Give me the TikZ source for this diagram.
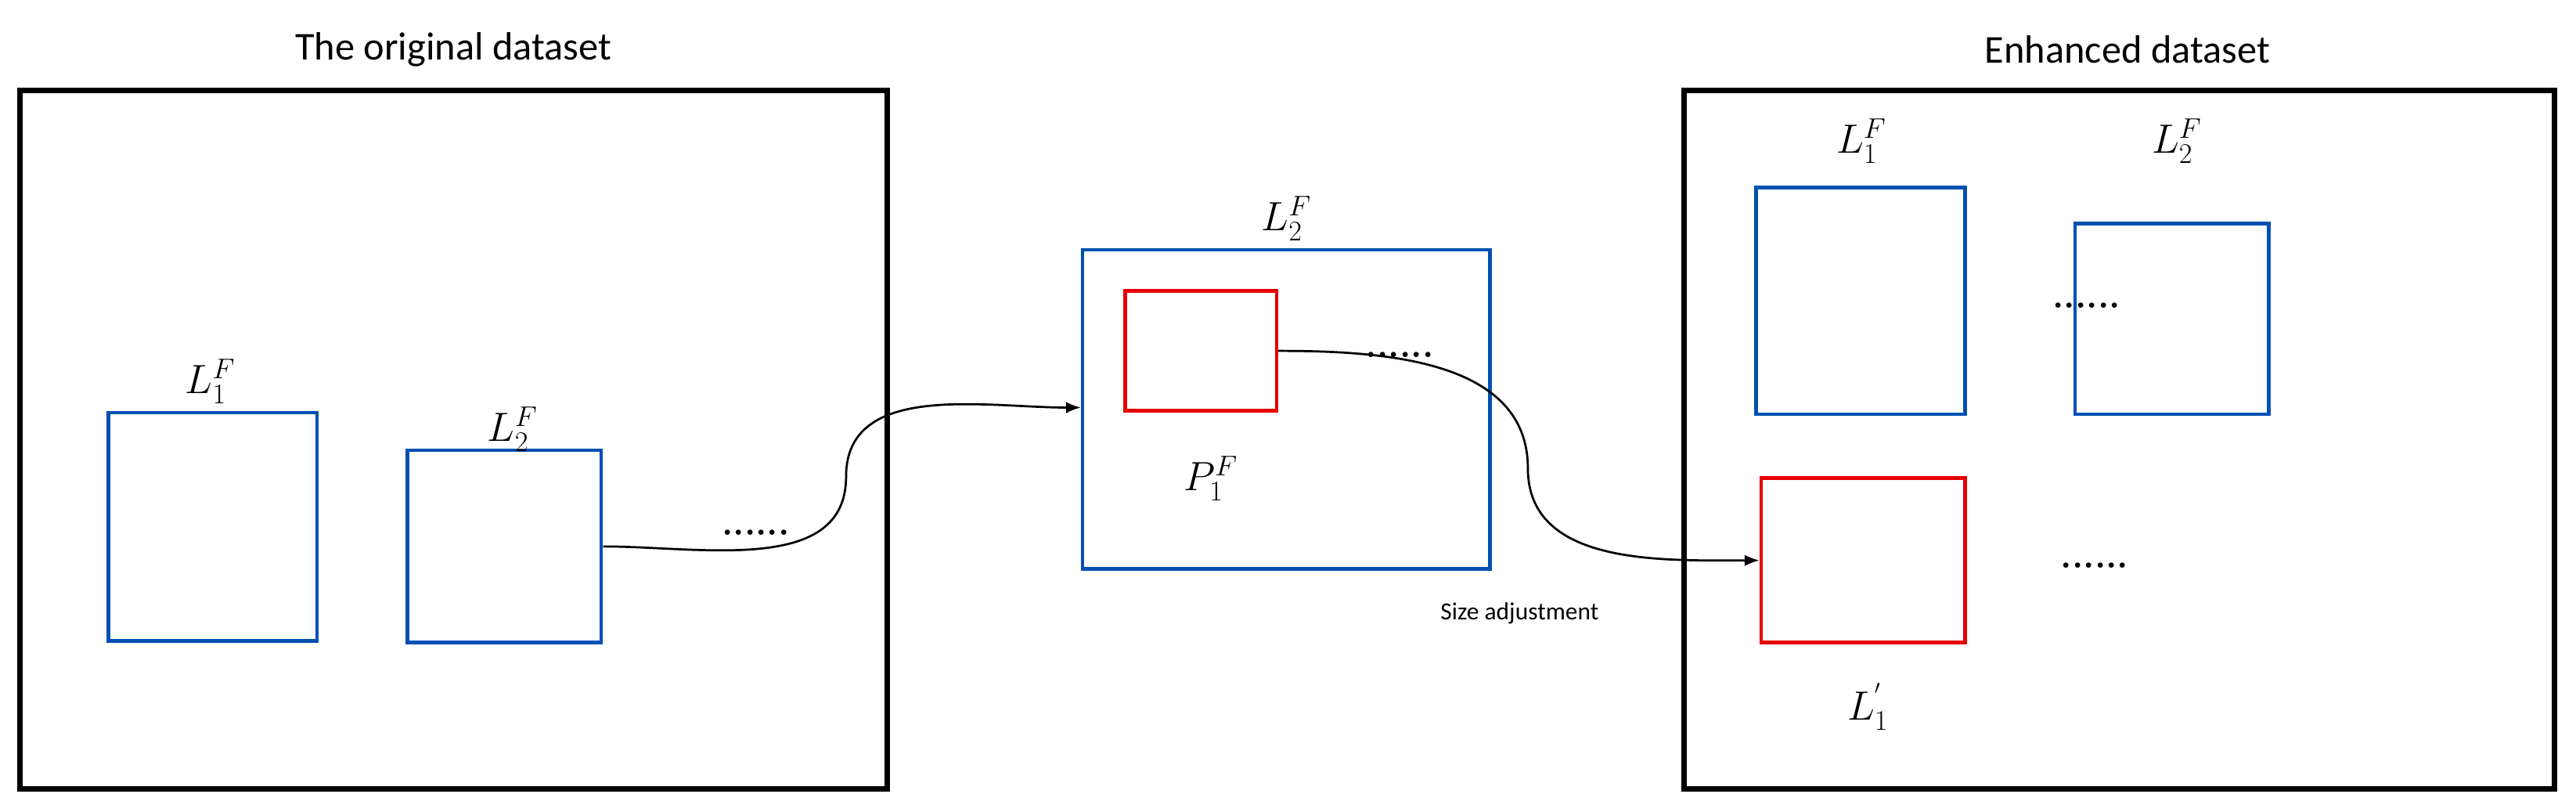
\documentclass[tikz,border=0pt]{standalone}
\usepackage{fontspec}
\setsansfont{Carlito}
\usetikzlibrary{arrows.meta}
\begin{document}
\begin{tikzpicture}[x=1pt,y=-1pt,
 frame/.style={draw=black,line width=3.5pt},
 bbox/.style={draw=blue!55!cyan!70!black,line width=2.2pt},
 rbox/.style={draw=red!90!black,line width=2.2pt},
 lab/.style={font=\fontsize{26}{28}\selectfont},
 dots/.style={font=\fontsize{22}{24}\selectfont\bfseries},
 conn/.style={line width=1.3pt,-{Latex[length=9pt,width=7pt]}}]
\useasboundingbox (0,0) rectangle (1568,494);
\node[font=\sffamily\fontsize{24}{28}\selectfont] (t1) at (276,30) {The original dataset};
\node[font=\sffamily\fontsize{24}{28}\selectfont] (t2) at (1295,30) {Enhanced dataset};
\node[frame,minimum width=528pt,minimum height=425pt,inner sep=0] (F1) at (276,267.5) {};
\node[frame,minimum width=530pt,minimum height=425pt,inner sep=0] (F2) at (1290,267.5) {};
\node[bbox,minimum width=127pt,minimum height=139pt,inner sep=0] (a1) at (129.5,320.5) {};
\node[bbox,minimum width=118pt,minimum height=117pt,inner sep=0] (a2) at (307,332.5) {};
\node[bbox,minimum width=248pt,minimum height=194pt,inner sep=0] (m) at (783,249) {};
\node[rbox,minimum width=92pt,minimum height=73pt,inner sep=0] (p) at (731,213.5) {};
\node[bbox,minimum width=127pt,minimum height=138pt,inner sep=0] (b1) at (1132.5,183) {};
\node[bbox,minimum width=118pt,minimum height=116pt,inner sep=0] (b2) at (1322,194) {};
\node[rbox,minimum width=124pt,minimum height=100pt,inner sep=0] (r1) at (1134,341) {};
\node[lab] at (128,232) {$L_1^F$};
\node[lab] at (312,261) {$L_2^F$};
\node[lab] at (783,133) {$L_2^F$};
\node[lab] at (737,291) {$P_1^F$};
\node[lab] at (1133,86) {$L_1^F$};
\node[lab] at (1325,86) {$L_2^F$};
\node[lab] at (1137,430) {$L_1^{'}$};
\node[dots] at (460,324) {......};
\node[dots] at (852,216) {......};
\node[dots] at (1270,186) {......};
\node[dots] at (1275,344) {......};
\node[font=\sffamily\fontsize{15}{17}\selectfont] (sz) at (925,373) {Size adjustment};
\coordinate (c1) at (515,290);
\coordinate (c2) at (930,285);
\draw[conn] (a2.east) to[out=0,in=-90] (c1) to[out=90,in=180] (m.west |- 0,248);
\draw[conn] (p.east) to[out=0,in=90] (c2) to[out=-90,in=180] (r1.west);
\end{tikzpicture}
\end{document}
